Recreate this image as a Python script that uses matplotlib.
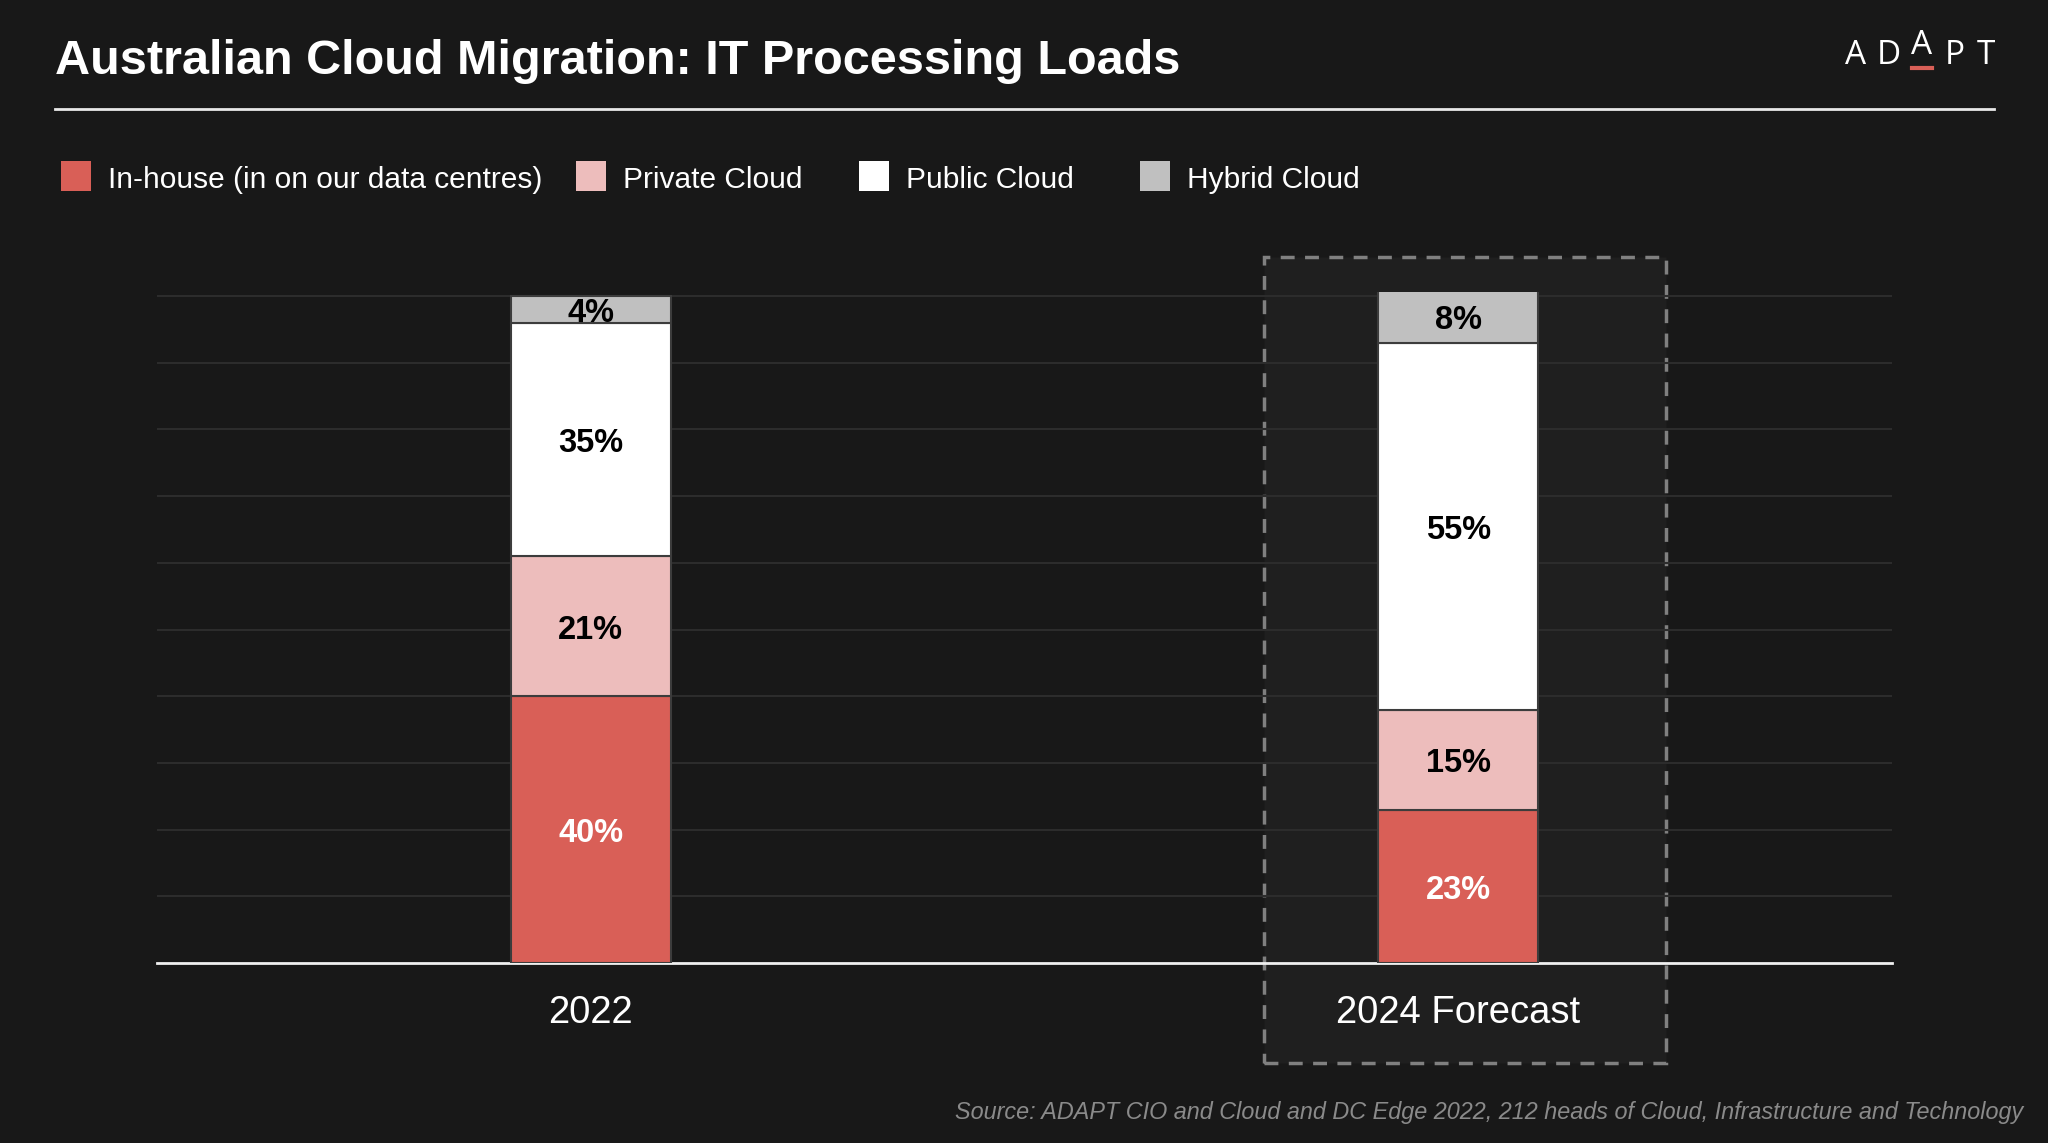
import numpy as np
import matplotlib
matplotlib.use("Agg")
import matplotlib.pyplot as plt
from matplotlib.patches import Rectangle

plt.rcParams['font.family'] = ['Liberation Sans', 'DejaVu Sans']

# data
years = ['2022', '2024 Forecast']
series = ['In-house (in on our data centres)', 'Private Cloud', 'Public Cloud', 'Hybrid Cloud']
inhouse = [40, 23]
private = [21, 15]
public = [35, 55]
hybrid = [4, 8]

colors = ['#d95f57', '#edbdbc', '#ffffff', '#c0c0c0']
label_colors = ['white', 'black', 'black', 'black']
bg = '#181818'

W, H = 2048, 1143


def fx(px):
    return px / W


def fy(py):
    return 1 - py / H


def main():
    fig = plt.figure(figsize=(20.48, 11.43), dpi=100, facecolor=bg)

    # highlight box for forecast
    box = Rectangle((fx(1264), fy(1063)), fx(1666) - fx(1264), fy(257) - fy(1063),
                    transform=fig.transFigure, facecolor='#1f1f1f', edgecolor='#808080',
                    linestyle=(0, (4, 3)), linewidth=2.5, zorder=0)
    fig.patches.append(box)

    ax = fig.add_axes([fx(157), fy(963), fx(1892) - fx(157), fy(292) - fy(963)])
    ax.set_facecolor('none')
    ax.set_zorder(1)

    x = np.arange(len(years))
    data = [inhouse, private, public, hybrid]
    bottom = np.zeros(len(years))
    for vals, c, lc in zip(data, colors, label_colors):
        vals = np.array(vals, dtype=float)
        ax.bar(x, vals, 0.185, bottom=bottom, color=c, edgecolor='#3c3c3c',
               linewidth=1.5, zorder=3)
        for xi, v, b in zip(x, vals, bottom):
            ax.annotate(f'{int(v)}%', (xi, b + v / 2), xytext=(0, -3),
                        textcoords='offset points', ha='center', va='center',
                        fontsize=23.5, fontweight='bold', color=lc, zorder=4)
        bottom += vals

    ax.set_xlim(-0.5, 1.5)
    ax.set_ylim(0, 100.6)
    ax.set_yticks(np.arange(10, 101, 10))
    ax.yaxis.grid(True, color='#2c2c2c', linewidth=1.5)
    ax.set_axisbelow(True)
    ax.tick_params(axis='y', left=False, labelleft=False)
    ax.set_xticks(x)
    ax.set_xticklabels(years, fontsize=27.5, color='white')
    ax.tick_params(axis='x', length=0, pad=23)
    for s in ['top', 'right', 'left']:
        ax.spines[s].set_visible(False)
    ax.spines['bottom'].set_color('#f0f0f0')
    ax.spines['bottom'].set_linewidth(2)

    # title and rule
    fig.text(fx(55), fy(61), 'Australian Cloud Migration: IT Processing Loads',
             fontsize=35, fontweight='bold', color='white', ha='left', va='center')
    fig.add_artist(plt.Line2D([fx(55), fx(1994)], [fy(109), fy(109)],
                              color='#e8e8e8', linewidth=2))

    # logo
    logo_x = [1856, 1889, 1922, 1955, 1986]
    logo_y = [56, 56, 45, 56, 56]
    for ch, lx, ly in zip('ADAPT', logo_x, logo_y):
        fig.text(fx(lx), fy(ly), ch, fontsize=24, color='white', ha='center',
                 va='center', family=['Open Sans', 'DejaVu Sans'])
    fig.add_artist(plt.Line2D([fx(1912), fx(1932)], [fy(68), fy(68)],
                              color='#d95f57', linewidth=3))

    # legend
    sq_x = [61, 576, 859, 1140]
    for name, c, sx in zip(series, colors, sq_x):
        fig.patches.append(Rectangle((fx(sx), fy(191)), fx(30), 30 / H,
                                     transform=fig.transFigure, facecolor=c,
                                     edgecolor='none'))
        fig.text(fx(sx + 47), fy(180), name, fontsize=21.5, color='white',
                 ha='left', va='center')

    fig.text(fx(2023), fy(1113),
             'Source: ADAPT CIO and Cloud and DC Edge 2022, 212 heads of Cloud, '
             'Infrastructure and Technology',
             fontsize=16.8, style='italic', color='#8a8a8a', ha='right', va='center')

    fig.savefig('out.png', dpi=100, facecolor=bg)


if __name__ == '__main__':
    main()
